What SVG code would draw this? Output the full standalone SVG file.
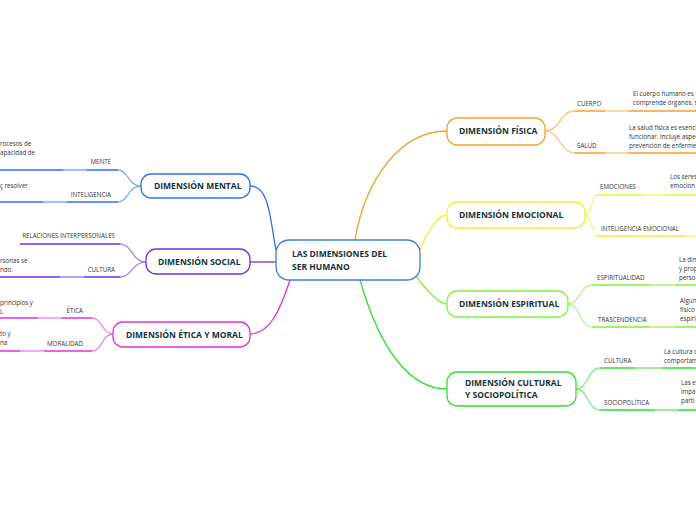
<svg xmlns="http://www.w3.org/2000/svg" width="696" height="520" viewBox="0 0 696 520">
<style>
text{font-family:"Open Sans","Liberation Sans",sans-serif;fill:#333}
.n{font-weight:bold;font-size:8.5px;fill:#14313a}
.s{font-size:6.2px}
.l{font-size:6.2px}
path{fill:none}
rect{fill:#fff;stroke-width:1.3}
</style>
<rect width="696" height="520" fill="#fff" stroke="none"/>
<g id="connectors" stroke-width="1.3">
<path d="M355 240 C365 180,400 131,447 131" stroke="#f7a030"/>
<path d="M420 250 C430 225,440 215,447 215" stroke="#f0f030"/>
<path d="M415 275 C430 295,440 304,447 304" stroke="#80f040"/>
<path d="M360 280 C380 350,410 389,447 389" stroke="#30e030"/>
<path d="M276 250 C270 220,270 186,250 186" stroke="#3070f0"/>
<path d="M276 262 L250 262" stroke="#7030e0"/>
<path d="M290 280 C280 310,270 334,250 334" stroke="#e030e0"/>
<g stroke="#f7a030" opacity="0.6"><path d="M545 131 C560 131,560 111,575 111"/><path d="M545 131 C560 131,560 153,575 153"/></g>
<path d="M575 111 H696 M575 153 H696" stroke="#f7a030"/>
<path d="M605 111 H628 M605 153 H628" stroke="#fde2bd"/>
<g stroke="#f0f030" opacity="0.6"><path d="M585 215 C592 215,592 195,597 195"/><path d="M585 215 C592 215,592 236,597 236"/></g>
<path d="M597 195 H696 M597 236 H696" stroke="#f0f030"/>
<path d="M642 195 H665 M684 236 H696" stroke="#fafab0"/>
<g stroke="#80f040" opacity="0.6"><path d="M568 304 C580 304,580 285,592 285"/><path d="M568 304 C580 304,580 327,592 327"/></g>
<path d="M592 285 H696 M592 327 H696" stroke="#80f040"/>
<path d="M650 285 H675 M650 327 H675" stroke="#c8f8a8"/>
<g stroke="#30e030" opacity="0.6"><path d="M576 389 C588 389,588 368,600 368"/><path d="M576 389 C588 389,588 410,600 410"/></g>
<path d="M600 368 H696 M600 410 H696" stroke="#30e030"/>
<path d="M635 368 H662 M655 410 H678" stroke="#b0f4b0"/>
<g stroke="#3070f0" opacity="0.6"><path d="M141 186 C128 186,128 170,118 170"/><path d="M141 186 C128 186,128 202,118 202"/></g>
<path d="M0 170 H118 M0 202 H118" stroke="#3070f0"/>
<path d="M63 170 H87 M43 202 H67" stroke="#b8d0fa"/>
<g stroke="#7030e0" opacity="0.6"><path d="M146 262 C132 262,132 244,120 244"/><path d="M146 262 C132 262,132 277,120 277"/></g>
<path d="M20 244 H120 M0 277 H120" stroke="#7030e0"/>
<path d="M60 277 H84" stroke="#d0c0f8"/>
<g stroke="#e030e0" opacity="0.6"><path d="M113 334 C102 334,102 318,92 318"/><path d="M113 334 C102 334,102 351,92 351"/></g>
<path d="M0 318 H92 M0 351 H92" stroke="#e030e0"/>
<path d="M38 318 H62 M20 351 H44" stroke="#f8c0f8"/>
</g>
<g id="center"><rect x="276" y="240" width="144" height="40" rx="13" stroke="#3d7fe0" stroke-width="1.5"/><text class="n" x="292" y="257" font-size="10">LAS DIMENSIONES DEL</text><text class="n" x="292" y="270" font-size="10">SER HUMANO</text></g>
<g id="fisica"><rect x="447" y="118" width="98" height="27" rx="10" stroke="#f7a030"/><text class="n" x="459" y="134">DIMENSIÓN FÍSICA</text></g>
<g id="emocional"><rect x="447" y="202" width="138" height="26" rx="10" stroke="#f0f030"/><text class="n" x="459" y="218">DIMENSIÓN EMOCIONAL</text></g>
<g id="espiritual"><rect x="447" y="291" width="121" height="26" rx="10" stroke="#80f040"/><text class="n" x="459" y="307">DIMENSIÓN ESPIRITUAL</text></g>
<g id="cultural"><rect x="447" y="372" width="129" height="34" rx="10" stroke="#30e030"/><text class="n" x="465" y="386">DIMENSIÓN CULTURAL</text><text class="n" x="465" y="398">Y SOCIOPOLÍTICA</text></g>
<g id="mental"><rect x="141" y="174" width="109" height="24" rx="10" stroke="#3070f0"/><text class="n" x="154" y="189">DIMENSIÓN MENTAL</text></g>
<g id="social"><rect x="146" y="249" width="104" height="25" rx="10" stroke="#7030e0"/><text class="n" x="158" y="265">DIMENSIÓN SOCIAL</text></g>
<g id="etica"><rect x="113" y="322" width="137" height="25" rx="10" stroke="#e030e0"/><text class="n" x="126" y="338">DIMENSIÓN ÉTICA Y MORAL</text></g>
<g id="labels">
<text class="s" x="577" y="106">CUERPO</text>
<text class="s" x="577" y="148">SALUD</text>
<text class="l" x="633" y="96">El cuerpo humano es la</text><text class="l" x="633" y="105">comprende órganos, s</text>
<text class="l" x="629" y="130">La salud física es esenci</text><text class="l" x="629" y="139">funcionar. Incluye aspec</text><text class="l" x="629" y="148">prevención de enfermed</text>
<text class="s" x="600" y="189">EMOCIONES</text>
<text class="s" x="601" y="231">INTELIGENCIA EMOCIONAL</text>
<text class="l" x="670" y="179">Los seres</text><text class="l" x="670" y="188">emocion</text>
<text class="s" x="597" y="280">ESPIRITUALIDAD</text>
<text class="s" x="598" y="322">TRASCENDENCIA</text>
<text class="l" x="679" y="262">La dim</text><text class="l" x="679" y="271">y prop</text><text class="l" x="679" y="280">perso</text>
<text class="l" x="680" y="303">Algun</text><text class="l" x="680" y="312">físico</text><text class="l" x="680" y="321">espiri</text>
<text class="s" x="604" y="363">CULTURA</text>
<text class="s" x="604" y="405">SOCIOPOLÍTICA</text>
<text class="l" x="664" y="354">La cultura d</text><text class="l" x="664" y="363">comportam</text>
<text class="l" x="681" y="385">Las e</text><text class="l" x="681" y="394">impa</text><text class="l" x="681" y="403">parti</text>
<text class="s" x="111" y="164" text-anchor="end">MENTE</text>
<text class="s" x="111" y="197" text-anchor="end">INTELIGENCIA</text>
<text class="l" x="0" y="146">rocesos de</text><text class="l" x="0" y="155">apacidad de</text>
<text class="l" x="0" y="188">ç resolver</text>
<text class="s" x="115" y="238" text-anchor="end">RELACIONES INTERPERSONALES</text>
<text class="s" x="115" y="272" text-anchor="end">CULTURA</text>
<text class="l" x="0" y="263">rsonas se</text><text class="l" x="0" y="272">ndo.</text>
<text class="s" x="83" y="313" text-anchor="end">ÉTICA</text>
<text class="s" x="83" y="346" text-anchor="end">MORALIDAD</text>
<text class="l" x="0" y="305">principios y</text><text class="l" x="0" y="314">L</text>
<text class="l" x="0" y="336">to y</text><text class="l" x="0" y="345">na</text>
</g>
</svg>
